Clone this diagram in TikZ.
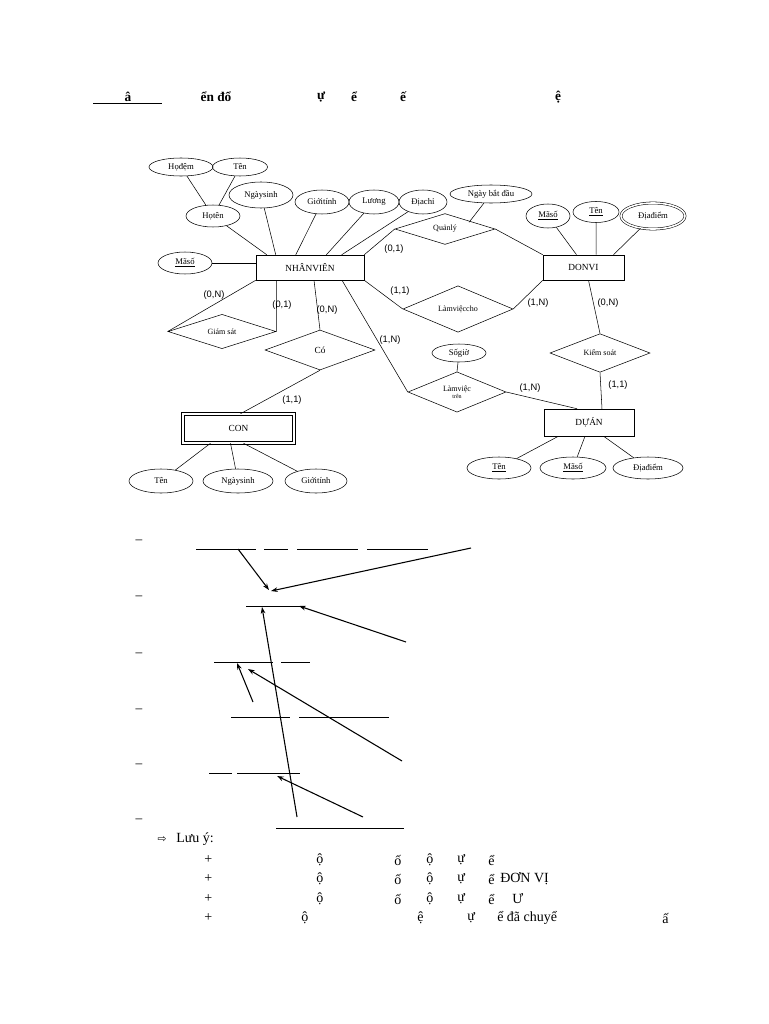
\documentclass[tikz,border=0pt]{standalone}
\usepackage{fontspec}
\setmainfont{Liberation Serif}
\newfontfamily\lab{Liberation Sans}
\newfontfamily\sym{DejaVu Sans}
\usetikzlibrary{shapes.geometric,arrows.meta}
\begin{document}
\begin{tikzpicture}[x=0.75pt,y=-0.75pt,
  ell/.style 2 args={ellipse,draw,inner sep=0,minimum width=#1*0.75pt,minimum height=#2*0.75pt,font=\fontsize{6.5}{7}\selectfont},
  ent/.style 2 args={rectangle,draw,inner sep=0,minimum width=#1*0.75pt,minimum height=#2*0.75pt,font=\fontsize{7}{8}\selectfont},
  dia/.style 2 args={diamond,draw,inner sep=0,minimum width=#1*0.75pt,minimum height=#2*0.75pt,font=\fontsize{6}{7}\selectfont},
  card/.style={font=\lab\fontsize{7}{8}\selectfont,inner sep=0},
  arr/.style={-{Stealth[length=5pt,width=3.5pt]},line width=0.8pt},
  hl/.style={line width=0.6pt},
  tx/.style={font=\fontsize{10.5}{12}\selectfont,inner sep=0,anchor=west},
  every path/.style={line width=0.4pt}]
\useasboundingbox (0,0) rectangle (768,1024);
% title
\draw[line width=0.7pt] (93,103) -- (162,103);
\begin{scope}[every node/.style={font=\bfseries\fontsize{10}{12}\selectfont,inner sep=0}]
\node (t1) at (128,97) {â};
\node (t2) at (216,97) {ển đổ};
\node (t3) at (321,97) {ự};
\node (t4) at (354,97) {ể};
\node (t5) at (403,97) {ế};
\node (t6) at (558,97) {ệ};
\end{scope}
% entities
\node[ent={108}{25}] (nv) at (310,267.5) {NHÂNVIÊN};
\node[ent={81}{25}] (dv) at (583.5,267.5) {DONVI};
\node[ent={111}{29},double,double distance=1.5pt] (con) at (238.5,428.5) {CON};
\node[ent={90}{27}] (da) at (589,422.5) {DỰÁN};
% attributes
\node[ell={64}{18}] (hd) at (181,167) {Họđệm};
\node[ell={55}{18}] (ten) at (240,167) {Tên};
\node[ell={54}{22}] (ht) at (213,216) {Họtên};
\node[ell={64}{26}] (ns) at (261,195) {Ngàysinh};
\node[ell={54}{24}] (gt) at (322,202) {Giớitính};
\node[ell={50}{24}] (lg) at (374,202) {Lương};
\node[ell={48}{24}] (dc) at (423,202) {Địachỉ};
\node[ell={82}{18}] (nbd) at (491,194) {Ngày bắt đầu};
\node[ell={54}{22}] (ms) at (185,263) {\underline{Mãsố}};
\node[ell={44}{24}] (dvms) at (548,216) {\underline{Mãsố}};
\node[ell={46}{21}] (dvten) at (596,212) {\underline{Tên}};
\node[ell={64}{26},double,double distance=1.2pt] (dvdd) at (653,216) {Địađiểm};
\node[ell={54}{18}] (sg) at (459,353) {Sốgiờ};
\node[ell={64}{24}] (cten) at (161,481) {Tên};
\node[ell={70}{24}] (cns) at (238,481) {Ngàysinh};
\node[ell={62}{24}] (cgt) at (316,481) {Giớitính};
\node[ell={64}{22}] (dten) at (499,468) {\underline{Tên}};
\node[ell={66}{22}] (dms) at (573,468) {\underline{Mãsố}};
\node[ell={70}{22}] (ddd) at (648,468) {Địađiểm};
% relationships
\node[dia={100}{26}] (ql) at (445,229) {Quảnlý};
\node[dia={110}{26}] (lvc) at (458,309) {Làmviệccho};
\node[dia={108}{33}] (gs) at (222,331.5) {Giám sát};
\node[dia={110}{40}] (co) at (320,350) {\fontsize{7}{8}\selectfont Có};
\node[dia={98}{35},align=center] (lvt) at (457,392) {Làmviệc\\[-2pt]{\fontsize{4.5}{5}\selectfont trên}};
\node[dia={100}{32}] (ks) at (600,353) {Kiểm soát};
% connectors
\draw (ht) -- (hd); \draw (ht) -- (ten);
\draw (ht) -- ([xshift=8.25]nv.north west);
\draw (ns) -- ([xshift=15]nv.north west);
\draw (gt) -- ([xshift=30]nv.north west);
\draw (lg) -- ([xshift=53]nv.north west);
\draw (dc) -- ([xshift=64.5]nv.north west);
\draw (ms) -- (nv.west |- ms);
\draw (nv.north east) -- (ql.west);
\draw (ql.east) -- (dv.north west);
\draw (nbd) -- ([xshift=18,yshift=5]ql.center);
\draw (nv.south east) -- (lvc.west);
\draw (lvc.east) -- (dv.south west);
\draw (nv.south west) -- (gs.west);
\draw ([xshift=15.75]nv.south west) -- (gs.east);
\draw ([xshift=3]nv.south) -- (co.north);
\draw (co.south) -- ([xshift=1.5]con.north);
\draw ([xshift=24]nv.south) -- (lvt.west);
\draw (lvt.east) -- ([xshift=-9]da.north);
\draw (sg) -- (lvt.north);
\draw ([xshift=3.75]dv.south) -- (ks.north);
\draw (ks.south) -- ([xshift=9.75]da.north);
\draw (dvms) -- ([xshift=-5.25]dv.north);
\draw (dvten) -- ([xshift=9.4]dv.north);
\draw (dvdd) -- ([xshift=22.5]dv.north);
\draw ([xshift=-21]con.south) -- (cten);
\draw ([xshift=-6]con.south) -- (cns);
\draw ([xshift=3.75]con.south) -- (cgt);
\draw ([xshift=-23]da.south) -- (dten);
\draw ([xshift=-3]da.south) -- (dms);
\draw ([xshift=11]da.south) -- (ddd);
% cardinalities
\node[card] (c1) at (394,249) {(0,1)};
\node[card] (c2) at (400,291) {(1,1)};
\node[card] (c3) at (538,303) {(1,N)};
\node[card] (c4) at (608,303) {(0,N)};
\node[card] (c5) at (618,385) {(1,1)};
\node[card] (c6) at (390,340) {(1,N)};
\node[card] (c7) at (530,388) {(1,N)};
\node[card] (c8) at (327,310) {(0,N)};
\node[card] (c9) at (292,400) {(1,1)};
\node[card] (c10) at (214,295) {(0,N)};
\node[card] (c11) at (282,305) {(0,1)};
% lower part
\foreach \yy/\nm in {542/d1,598/d2,655/d3,711/d4,766/d5,821/d6}
  \node[inner sep=0,font=\fontsize{10}{12}\selectfont] (\nm) at (139,\yy) {–};
\draw[hl] (196,549) -- (256,549); \draw[hl] (264,549) -- (288,549);
\draw[hl] (297,549) -- (358,549); \draw[hl] (367,549) -- (428,549);
\draw[hl] (246,606) -- (305,606);
\draw[hl] (214,662) -- (273,662); \draw[hl] (281,662) -- (310,662);
\draw[hl] (231,717) -- (290,717); \draw[hl] (299,717) -- (389,717);
\draw[hl] (209,773) -- (232,773); \draw[hl] (237,773) -- (300,773);
\draw[hl] (276,828) -- (404,828);
\coordinate (p1) at (238,549); \coordinate (q1) at (269,590);
\coordinate (p2) at (471,548); \coordinate (q2) at (271,591);
\coordinate (p3) at (406,642); \coordinate (q3) at (299,606);
\coordinate (p4) at (297,817); \coordinate (q4) at (262,607);
\coordinate (p5) at (253,702); \coordinate (q5) at (237,663);
\coordinate (p6) at (402,761); \coordinate (q6) at (248,669);
\coordinate (p7) at (363,817); \coordinate (q7) at (277,776);
\foreach \i in {1,...,7} \draw[arr] (p\i) -- (q\i);
% note
\node[inner sep=0,font=\sym\fontsize{8}{10}\selectfont] (ar) at (162,839) {⇨};
\node[tx] (lu) at (176,839) {Lưu ý:};
\foreach \yy/\nm in {860/a,879/b,899/c,918/d}
  \node[tx] (pl\nm) at (204,\yy) {+};
\foreach \yy/\nm in {860/a,879/b,899/c}{
  \node[tx] (o1\nm) at (316,\yy) {ộ};
  \node[tx] (o2\nm) at (394,\yy) {ố};
  \node[tx] (o3\nm) at (426,\yy) {ộ};
  \node[tx] (o4\nm) at (457,\yy) {ự};
  \node[tx] (o5\nm) at (488,\yy) {ể};
}
\node[tx] (xb) at (500,879) {ĐƠN VỊ};
\node[tx] (xc) at (512,899) {Ư};
\node[tx] (od1) at (301,918) {ộ};
\node[tx] (od2) at (417,918) {ệ};
\node[tx] (od3) at (467,918) {ự};
\node[tx] (od4) at (497,918) {ể đã chuyể};
\node[tx] (od5) at (662,918) {ấ};
\end{tikzpicture}
\end{document}
